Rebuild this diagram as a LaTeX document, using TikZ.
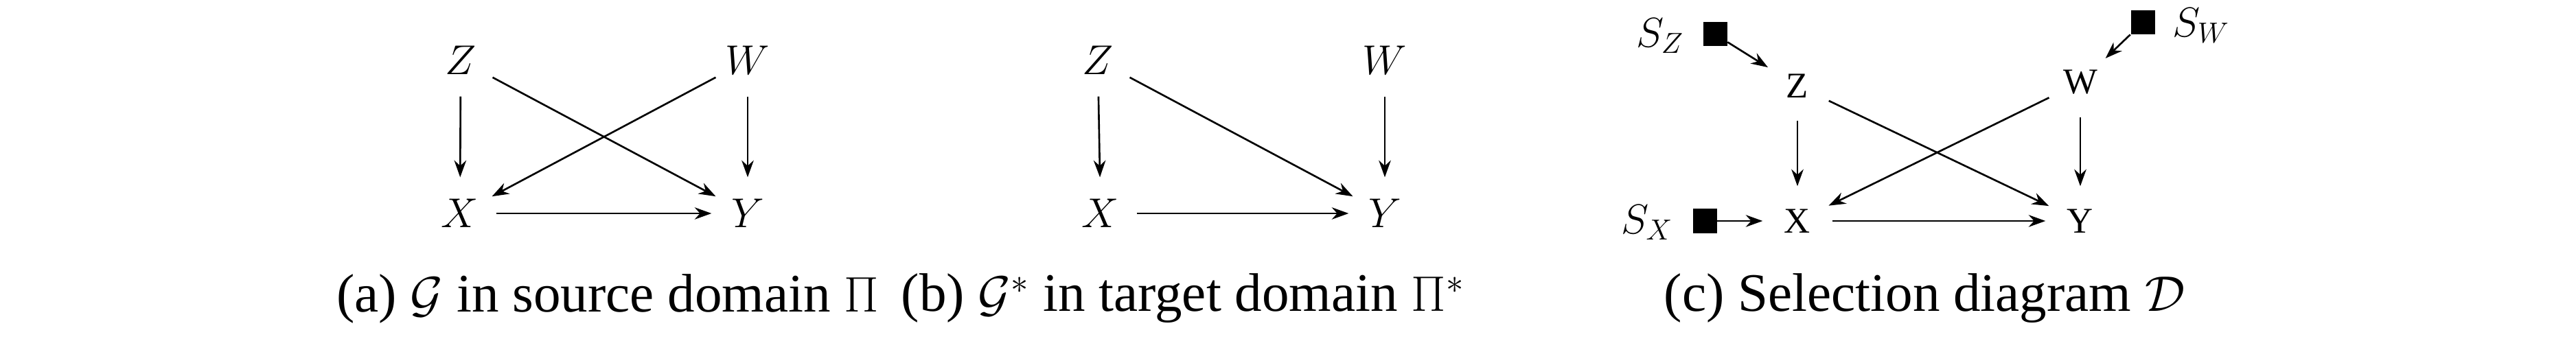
\documentclass[tikz,border=0pt]{standalone}
\usepackage{fontspec}
\setmainfont{Liberation Serif}
\usetikzlibrary{arrows.meta, positioning}

\tikzset{
  var/.style={circle, minimum size=1.04cm, inner sep=0pt, font=\fontsize{17}{20}\selectfont},
  rvar/.style={circle, minimum size=1.0cm, inner sep=0pt, font=\fontsize{15}{18}\selectfont},
  sel/.style={fill=black, minimum size=0.35cm, inner sep=0pt},
  edge/.style={-{Stealth[length=7pt,width=5pt]}, line width=0.75pt},
  caption/.style={font=\fontsize{22.5}{26}\selectfont}
}

\begin{document}
\begin{tikzpicture}

\useasboundingbox (0,0) rectangle (37.52,5.28);

% (a)
\node[var] (za) at (6.71,4.4) {$Z$};
\node[var] (wa) at (10.89,4.4) {$W$};
\node[var] (xa) at (6.70,2.17) {$X$};
\node[var] (ya) at (10.89,2.17) {$Y$};
\draw[edge] (za) -- (xa);
\draw[edge] (za) -- (ya);
\draw[edge] (wa) -- (xa);
\draw[edge] (wa) -- (ya);
\draw[edge] (xa) -- (ya);
\node[caption] (capa) at (8.85,0.93) {(a) $\mathcal{G}$ in source domain $\Pi$};

% (b)
\node[var] (zb) at (15.99,4.4) {$Z$};
\node[var] (wb) at (20.17,4.4) {$W$};
\node[var] (xb) at (16.03,2.17) {$X$};
\node[var] (yb) at (20.17,2.17) {$Y$};
\draw[edge] (zb) -- (xb);
\draw[edge] (zb) -- (yb);
\draw[edge] (wb) -- (yb);
\draw[edge] (xb) -- (yb);
\node[caption] (capb) at (17.23,0.93) {(b) $\mathcal{G}^{*}$ in target domain $\Pi^{*}$};

% (c)
\node[rvar] (zc) at (26.18,4.03) {Z};
\node[rvar] (wc) at (30.30,4.08) {W};
\node[rvar] (xc) at (26.18,2.06) {X};
\node[rvar] (yc) at (30.30,2.06) {Y};
\node[sel] (sz) at (24.98,4.78) {};
\node[sel] (sw) at (31.21,4.95) {};
\node[sel] (sx) at (24.83,2.06) {};
\node[var] (szl) at (24.18,4.76) {$S_Z$};
\node[var] (swl) at (32.06,4.91) {$S_W$};
\node[var] (sxl) at (23.99,2.04) {$S_X$};
\draw[edge] (sz) -- (zc);
\draw[edge] (sw) -- (wc);
\draw[edge] (sx) -- (xc);
\draw[edge] (zc) -- (xc);
\draw[edge] (zc) -- (yc);
\draw[edge] (wc) -- (xc);
\draw[edge] (wc) -- (yc);
\draw[edge] (xc) -- (yc);
\node[caption] (capc) at (28.03,0.93) {(c) Selection diagram $\mathcal{D}$};

\end{tikzpicture}
\end{document}
